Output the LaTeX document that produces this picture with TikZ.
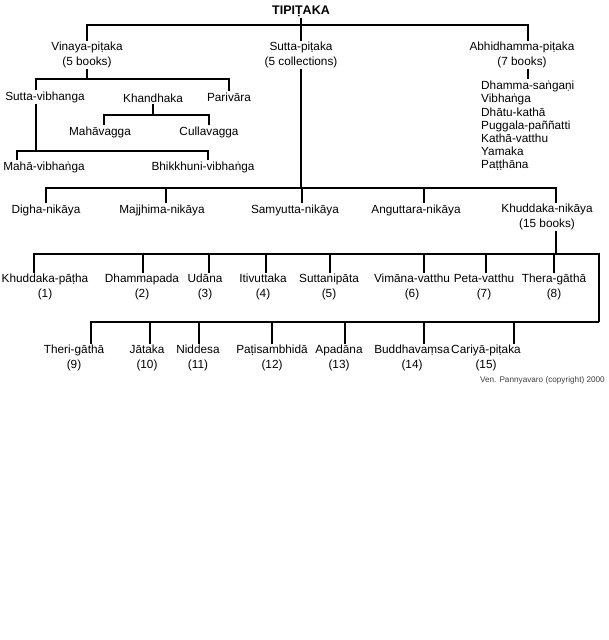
\documentclass[tikz,border=0pt]{standalone}
\usepackage{fontspec}
\setmainfont{Liberation Sans}
\begin{document}
\begin{tikzpicture}[x=1pt,y=-1pt,
  lbl/.style={inner sep=1pt,align=center,font=\fontsize{11.8}{14.5}\selectfont},
  ln/.style={line width=2.2pt}]
\useasboundingbox (0,0) rectangle (609,640);
\node[lbl,font=\bfseries\fontsize{12.5}{14}\selectfont] (t) at (301,11) {TIPIṬAKA};
\node[lbl] (vin) at (87,55) {Vinaya-piṭaka\\(5 books)};
\node[lbl] (sut) at (301,55) {Sutta-piṭaka\\(5 collections)};
\node[lbl] (abh) at (522,55) {Abhidhamma-piṭaka\\(7 books)};
\draw[ln] (t.south) -- (sut.north);
\draw[ln] (vin.north) -- (vin.north|-0,25) -- (528,25) -- (abh.north-|528,0);
% Vinaya
\node[lbl] (sv) at (45,97) {Sutta-vibhanga};
\node[lbl] (kh) at (153,98) {Khandhaka};
\node[lbl] (pv) at (229,97) {Parivāra};
\draw[ln] (vin.south) -- (vin.south|-0,79);
\draw[ln] ([xshift=-9pt]sv.north) -- ([xshift=-9pt]sv.north|-0,79) -- (pv.north|-0,79) -- (pv.north);
\node[lbl] (mv) at (100,132) {Mahāvagga};
\node[lbl] (cv) at (209,132) {Cullavagga};
\draw[ln] (kh.south) -- (kh.south|-0,115);
\draw[ln] ([xshift=4pt]mv.north) -- ([xshift=4pt]mv.north|-0,115) -- (cv.north|-0,115) -- (cv.north);
\node[lbl] (mvb) at (44,167) {Mahā-vibhaṅga};
\node[lbl] (bvb) at (203,167) {Bhikkhuni-vibhaṅga};
\draw[ln] ([xshift=-9pt]sv.south) -- ([xshift=-9pt]sv.south|-0,151);
\draw[ln] ([xshift=-27pt]mvb.north) -- ([xshift=-27pt]mvb.north|-0,151) -- ([xshift=5pt]bvb.north|-0,151) -- ([xshift=5pt]bvb.north);
% Abhidhamma
\node[anchor=north west,inner sep=1pt,align=left,font=\fontsize{11.8}{13.2}\selectfont] (al) at (480,80)
 {Dhamma-saṅgaṇi\\Vibhaṅga\\Dhātu-kathā\\Puggala-paññatti\\Kathā-vatthu\\Yamaka\\Paṭṭhāna};
\draw[ln] (abh.south-|528,0) -- (528,79);
% Sutta
\node[lbl] (dn) at (46,210) {Digha-nikāya};
\node[lbl] (mn) at (162,210) {Majjhima-nikāya};
\node[lbl] (sn) at (295,210) {Samyutta-nikāya};
\node[lbl] (an) at (416,210) {Anguttara-nikāya};
\node[lbl] (kn) at (547,217) {Khuddaka-nikāya\\(15 books)};
\draw[ln] (sut.south) -- (sut.south|-0,188);
\draw[ln] (dn.north) -- (dn.north|-0,188) -- ([xshift=9pt]kn.north|-0,188) -- ([xshift=9pt]kn.north);
\foreach \n/\s in {mn/4,sn/7,an/8} \draw[ln] ([xshift=\s pt]\n.north) -- ([xshift=\s pt]\n.north|-0,188);
% Khuddaka row 1
\foreach \n/\x/\t/\k in {k1/45/Khuddaka-pāṭha/1, k2/142/Dhammapada/2, k3/205/Udāna/3, k4/263/Itivuttaka/4, k5/329/Suttanipāta/5, k6/412/Vimāna-vatthu/6, k7/484/Peta-vatthu/7, k8/554/Thera-gāthā/8}
  \node[lbl] (\n) at (\x,287) {\t\\(\k)};
\draw[ln] ([xshift=9pt]kn.south) -- ([xshift=9pt]kn.south|-0,254);
\draw[ln] ([xshift=-11pt]k1.north) -- ([xshift=-11pt]k1.north|-0,254) -- (599,254) -- (599,322);
\foreach \n/\s in {k2/1,k3/4,k4/3,k5/1,k6/12,k7/2,k8/0} \draw[ln] ([xshift=\s pt]\n.north) -- ([xshift=\s pt]\n.north|-0,254);
% Khuddaka row 2
\foreach \n/\x/\t/\k in {m1/74/Theri-gāthā/9, m2/147/Jātaka/10, m3/198/Niddesa/11, m4/272/Paṭisambhidā/12, m5/339/Apadāna/13, m6/412/Buddhavaṃsa/14, m7/486/Cariyā-piṭaka/15}
  \node[lbl] (\n) at (\x,358) {\t\\(\k)};
\draw[ln] ([xshift=17pt]m1.north) -- ([xshift=17pt]m1.north|-0,322) -- (599,322);
\foreach \n/\s in {m2/3,m3/1,m4/0,m5/6,m6/12,m7/28} \draw[ln] ([xshift=\s pt]\n.north) -- ([xshift=\s pt]\n.north|-0,322);
\node[anchor=east,inner sep=0pt,font=\fontsize{8.2}{9}\selectfont,text=black!75] (cr) at (605,380) {Ven. Pannyavaro (copyright) 2000};
\end{tikzpicture}
\end{document}
